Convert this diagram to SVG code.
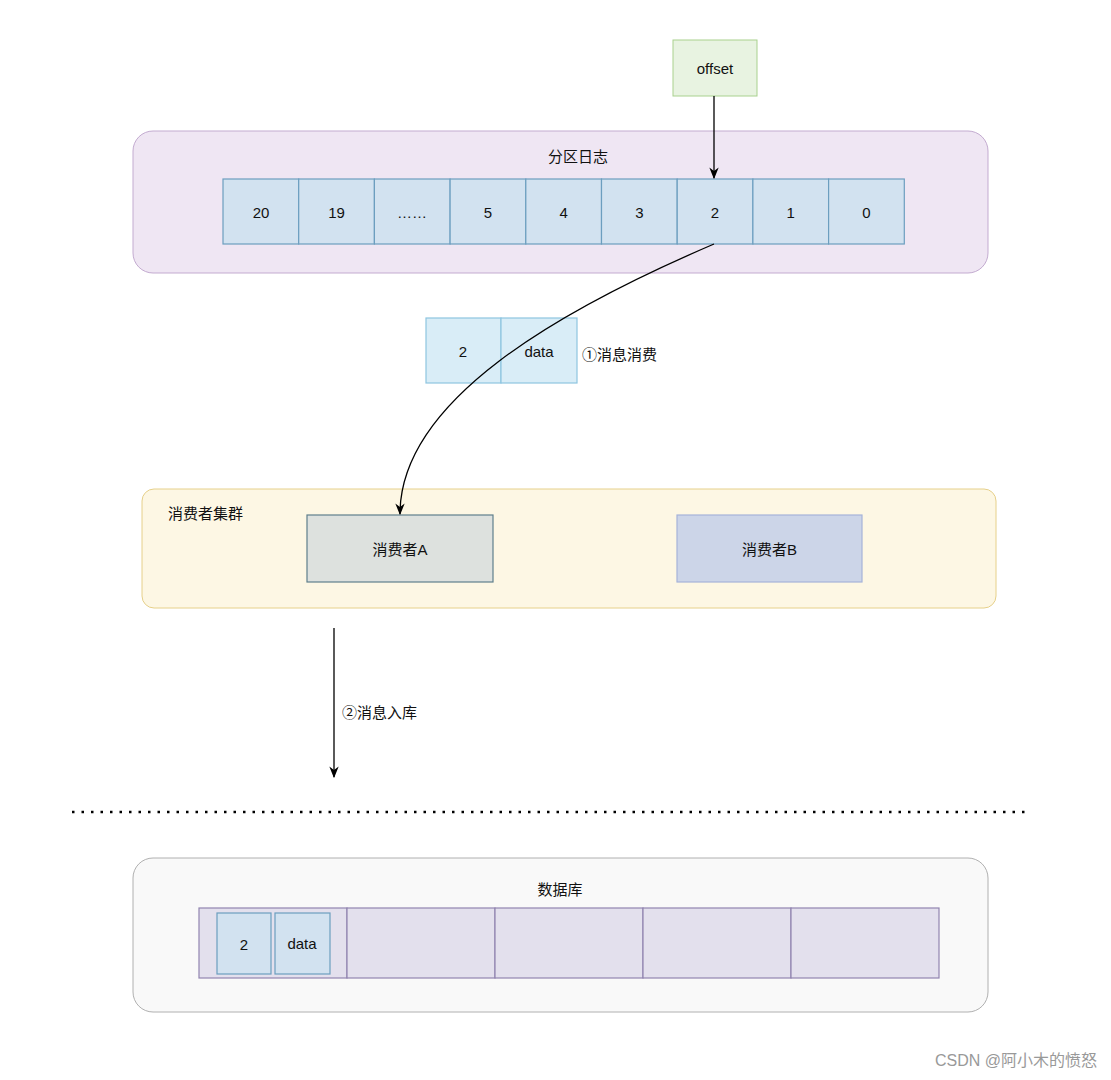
<svg xmlns="http://www.w3.org/2000/svg" width="1111" height="1080" viewBox="0 0 1111 1080">
<style>
text{font-family:"Liberation Sans","Noto Sans CJK SC",sans-serif;font-size:15px;fill:#111;text-anchor:middle;dominant-baseline:central}
.cell{fill:#d2e2f0;stroke:#6c9ebf;stroke-width:1.2}
.msg{fill:#d9edf7;stroke:#8ec5e0;stroke-width:1.2}
.db{fill:#e3e0ed;stroke:#9184b0;stroke-width:1.2}
.ln{fill:none;stroke:#000;stroke-width:1.3}
</style>
<defs><marker id="ah" viewBox="0 0 10 10" refX="9" refY="5" markerWidth="9" markerHeight="9" orient="auto"><path d="M0,1 L10,5 L0,9 L3,5 Z" fill="#000"/></marker></defs>
<rect width="1111" height="1080" fill="#fff"/>
<g id="partition">
<rect x="133" y="131" width="855" height="142" rx="20" fill="#efe6f3" stroke="#c3abd0"/>
<text x="578" y="156">分区日志</text>
<rect class="cell" x="223" y="179" width="75.7" height="65"/><text x="261" y="212">20</text>
<rect class="cell" x="298.7" y="179" width="75.7" height="65"/><text x="336.5" y="212">19</text>
<rect class="cell" x="374.4" y="179" width="75.7" height="65"/><text x="412" y="212">……</text>
<rect class="cell" x="450.1" y="179" width="75.7" height="65"/><text x="488" y="212">5</text>
<rect class="cell" x="525.8" y="179" width="75.7" height="65"/><text x="563.6" y="212">4</text>
<rect class="cell" x="601.5" y="179" width="75.7" height="65"/><text x="639.3" y="212">3</text>
<rect class="cell" x="677.2" y="179" width="75.7" height="65"/><text x="715" y="212">2</text>
<rect class="cell" x="752.9" y="179" width="75.7" height="65"/><text x="790.7" y="212">1</text>
<rect class="cell" x="828.6" y="179" width="75.7" height="65"/><text x="866.4" y="212">0</text>
</g>
<g id="offset"><rect x="673" y="40" width="84" height="56" fill="#e8f3e1" stroke="#a9d18e"/><text x="715" y="68">offset</text></g>
<g id="message">
<rect class="msg" x="426" y="318" width="75" height="65"/><text x="463" y="351">2</text>
<rect class="msg" x="501" y="318" width="76" height="65"/><text x="539" y="351">data</text>
</g>
<g id="cluster">
<rect x="142" y="489" width="854" height="119" rx="12" fill="#fdf7e4" stroke="#e6d08a"/>
<text x="168" y="513" style="text-anchor:start">消费者集群</text>
<g id="consumerA"><rect x="307" y="515" width="186" height="67" fill="#dde1de" stroke="#5f7f8c" stroke-width="1.2"/><text x="400" y="549">消费者A</text></g>
<g id="consumerB"><rect x="677" y="515" width="185" height="67" fill="#ccd5e8" stroke="#a6b3d9" stroke-width="1.2"/><text x="769.5" y="549">消费者B</text></g>
</g>
<g id="database">
<rect x="133" y="858" width="855" height="154" rx="20" fill="#f9f9f9" stroke="#b0b0b0"/>
<text x="560" y="889">数据库</text>
<rect class="db" x="199" y="908" width="148" height="70"/>
<rect class="db" x="347" y="908" width="148" height="70"/>
<rect class="db" x="495" y="908" width="148" height="70"/>
<rect class="db" x="643" y="908" width="148" height="70"/>
<rect class="db" x="791" y="908" width="148" height="70"/>
<rect class="cell" x="217" y="913" width="54" height="61"/><text x="244" y="944">2</text>
<rect class="cell" x="275" y="913" width="55" height="61"/><text x="302" y="943">data</text>
</g>
<g id="connectors">
<line class="ln" x1="714" y1="96" x2="714" y2="178" marker-end="url(#ah)"/>
<path class="ln" d="M714,244 C560,310 400,400 400,514" marker-end="url(#ah)"/>
<line class="ln" x1="334" y1="628" x2="334" y2="777" marker-end="url(#ah)"/>
<line x1="72" y1="812" x2="1028" y2="812" stroke="#000" stroke-width="2.5" stroke-dasharray="2.5,7"/>
</g>
<text x="582" y="354" style="text-anchor:start">①消息消费</text>
<text x="342" y="712" style="text-anchor:start">②消息入库</text>
<text x="1097" y="1060" style="text-anchor:end;fill:#999;font-size:16px">CSDN @阿小木的愤怒</text>
</svg>
